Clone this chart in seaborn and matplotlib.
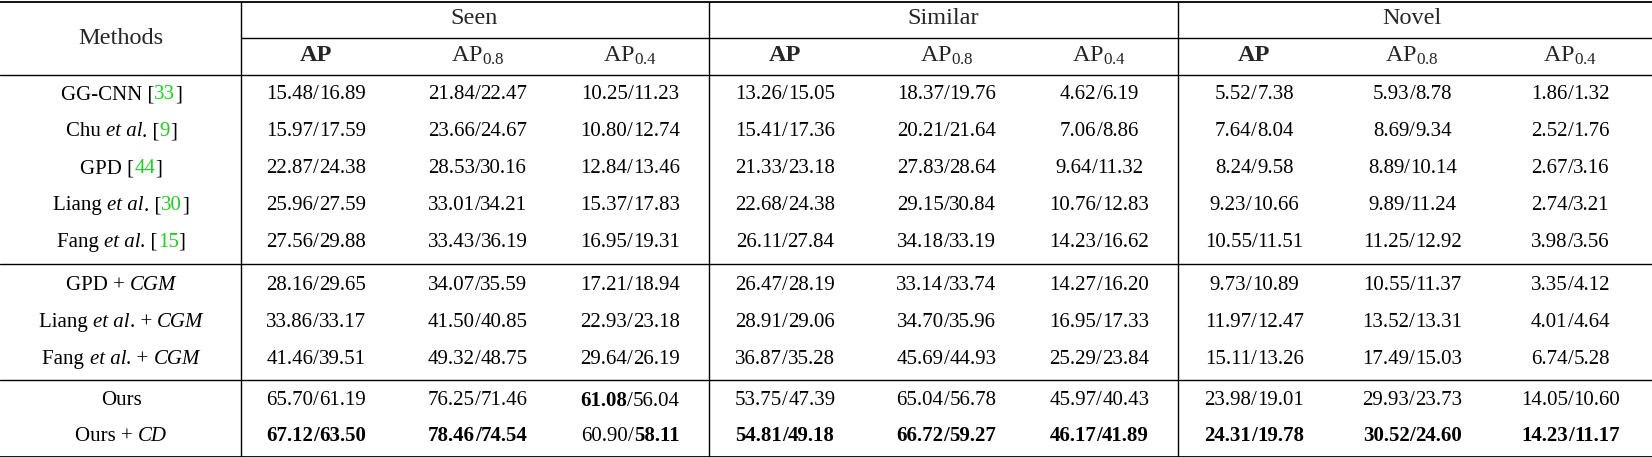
import matplotlib
matplotlib.use("Agg")
import matplotlib.pyplot as plt
import seaborn as sns
from matplotlib.offsetbox import TextArea, HPacker, AnnotationBbox

sns.set_theme(style="white")
plt.rcParams['font.family'] = ['Liberation Serif', 'DejaVu Serif']
plt.rcParams['mathtext.fontset'] = 'custom'
plt.rcParams['mathtext.rm'] = 'Liberation Serif'
plt.rcParams['mathtext.it'] = 'Liberation Serif:italic'
plt.rcParams['mathtext.bf'] = 'Liberation Serif:bold'

groups = ["Seen", "Similar", "Novel"]
metrics = ["AP", "AP0.8", "AP0.4"]

methods = [
    [("GG-CNN [", "n"), ("33", "g"), ("]", "n")],
    [("Chu ", "n"), ("et al", "i"), (". [", "n"), ("9", "g"), ("]", "n")],
    [("GPD [", "n"), ("44", "g"), ("]", "n")],
    [("Liang ", "n"), ("et al", "i"), (". [", "n"), ("30", "g"), ("]", "n")],
    [("Fang ", "n"), ("et al", "i"), (". [", "n"), ("15", "g"), ("]", "n")],
    [("GPD + ", "n"), ("CGM", "i")],
    [("Liang ", "n"), ("et al", "i"), (". + ", "n"), ("CGM", "i")],
    [("Fang ", "n"), ("et al", "i"), (". + ", "n"), ("CGM", "i")],
    [("Ours", "n")],
    [("Ours + ", "n"), ("CD", "i")],
]

values = [
    ["15.48/16.89", "21.84/22.47", "10.25/11.23", "13.26/15.05", "18.37/19.76", "4.62/6.19", "5.52/7.38", "5.93/8.78", "1.86/1.32"],
    ["15.97/17.59", "23.66/24.67", "10.80/12.74", "15.41/17.36", "20.21/21.64", "7.06/8.86", "7.64/8.04", "8.69/9.34", "2.52/1.76"],
    ["22.87/24.38", "28.53/30.16", "12.84/13.46", "21.33/23.18", "27.83/28.64", "9.64/11.32", "8.24/9.58", "8.89/10.14", "2.67/3.16"],
    ["25.96/27.59", "33.01/34.21", "15.37/17.83", "22.68/24.38", "29.15/30.84", "10.76/12.83", "9.23/10.66", "9.89/11.24", "2.74/3.21"],
    ["27.56/29.88", "33.43/36.19", "16.95/19.31", "26.11/27.84", "34.18/33.19", "14.23/16.62", "10.55/11.51", "11.25/12.92", "3.98/3.56"],
    ["28.16/29.65", "34.07/35.59", "17.21/18.94", "26.47/28.19", "33.14/33.74", "14.27/16.20", "9.73/10.89", "10.55/11.37", "3.35/4.12"],
    ["33.86/33.17", "41.50/40.85", "22.93/23.18", "28.91/29.06", "34.70/35.96", "16.95/17.33", "11.97/12.47", "13.52/13.31", "4.01/4.64"],
    ["41.46/39.51", "49.32/48.75", "29.64/26.19", "36.87/35.28", "45.69/44.93", "25.29/23.84", "15.11/13.26", "17.49/15.03", "6.74/5.28"],
    ["65.70/61.19", "76.25/71.46", "61.08/56.04", "53.75/47.39", "65.04/56.78", "45.97/40.43", "23.98/19.01", "29.93/23.73", "14.05/10.60"],
    ["67.12/63.50", "78.46/74.54", "60.90/58.11", "54.81/49.18", "66.72/59.27", "46.17/41.89", "24.31/19.78", "30.52/24.60", "14.23/11.17"],
]
bold = {(8, 2): (True, False)}
for c in range(9):
    bold[(9, c)] = (True, True)
bold[(9, 2)] = (False, True)

W, H = 1652, 457
fig = plt.figure(figsize=(W / 100, H / 100), dpi=100)
ax = fig.add_axes([0, 0, 1, 1])
ax.set_xlim(0, W)
ax.set_ylim(H, 0)
ax.axis("off")

S = 1.054
FS = 15
HFS = 17.5
col_x = [v * S for v in [300, 453, 598, 745, 898, 1043, 1190, 1340, 1490]]
grp_x = [v * S for v in [450, 895, 1340]]
row_y = [v * S for v in [90, 125, 160, 195, 230, 271, 306, 341, 380, 414]]
method_x = 115 * S
style_map = {"n": dict(color="black"), "i": dict(color="black", style="italic"),
             "g": dict(color="#22cc22"), "b": dict(color="black", weight="bold")}


def cell(x, y, segs, fs=FS):
    kids = [TextArea(t, textprops=dict(fontsize=fs, family="Liberation Serif", **style_map[s])) for t, s in segs]
    pack = HPacker(children=kids, pad=0, sep=0, align="baseline")
    ab = AnnotationBbox(pack, (x, y), frameon=False, box_alignment=(0.5, 0.5), pad=0)
    ax.add_artist(ab)


ax.text(method_x, 37 * S, "Methods", ha="center", va="center", fontsize=HFS)
for g, gx in zip(groups, grp_x):
    ax.text(gx, 18 * S, g, ha="center", va="center", fontsize=HFS)
for gi in range(3):
    for mi, m in enumerate(metrics):
        x = col_x[gi * 3 + mi]
        if m == "AP":
            ax.text(x, 53 * S, "AP", ha="center", va="center", fontsize=HFS, weight="bold")
        else:
            ax.text(x, 53 * S, "AP$_{" + m[2:] + "}$", ha="center", va="center", fontsize=HFS)

for r, segs in enumerate(methods):
    cell(method_x, row_y[r], segs)
    for c, v in enumerate(values[r]):
        a, b = v.split("/")
        lb, rb = bold.get((r, c), (False, False))
        cell(col_x[c], row_y[r], [(a, "b" if lb else "n"), ("/", "b" if (lb and rb) else "n"), (b, "b" if rb else "n")])

lw = 1.0
ax.plot([0, W], [2, 2], color="black", lw=1.3)
ax.plot([229 * S, W], [36 * S, 36 * S], color="black", lw=lw)
ax.plot([0, W], [71 * S, 71 * S], color="black", lw=lw)
ax.plot([0, W], [250 * S, 250 * S], color="black", lw=lw)
ax.plot([0, W], [361 * S, 361 * S], color="black", lw=lw)
ax.plot([0, W], [434 * S, 434 * S], color="black", lw=1.3)
for vx in [229, 673, 1118]:
    ax.plot([vx * S, vx * S], [2, 434 * S], color="black", lw=lw)

fig.savefig("out.png", dpi=100)
